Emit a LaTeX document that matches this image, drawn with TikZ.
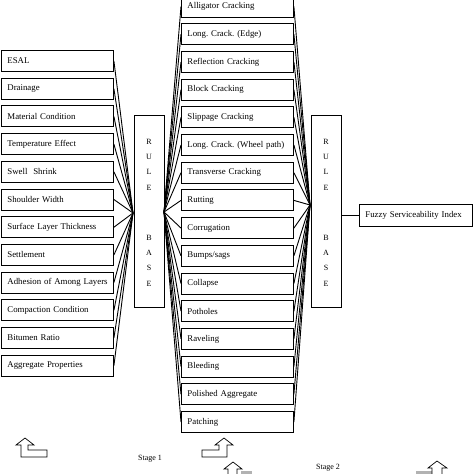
\documentclass[tikz,border=0pt]{standalone}
\usepackage{fontspec}
\setmainfont{Liberation Serif}
\frenchspacing
\begin{document}
\begin{tikzpicture}[x=1pt, y=-1pt, line width=0.9pt,
                  boite/.style={draw, anchor=west, minimum height=21pt, text width=100pt,
                                inner xsep=6pt, align=left, font=\fontsize{8.8}{10}\selectfont},
                  regle/.style={draw, minimum width=30pt, minimum height=192pt},
                  lettre/.style={font=\fontsize{8}{9}\selectfont},
                  fleche/.style={draw, line width=0.7pt, fill=white}]
\useasboundingbox (0,0) rectangle (474,474);
\clip (0,0) rectangle (474,474);
% stage 1 : parametres
\foreach \i/\t in {0/ESAL, 1/Drainage, 2/Material Condition, 3/Temperature Effect,
                   4/Swell\ \ Shrink, 5/Shoulder Width, 6/Surface Layer Thickness,
                   7/Settlement, 8/Adhesion of Among Layers, 9/Compaction Condition,
                   10/Bitumen Ratio, 11/Aggregate Properties}
  \node[boite] (p\i) at (1, 61+27.7*\i) {\mbox{\t}};
% regles
\node[regle] (rb1) at (149, 211) {};
\node[regle] (rb2) at (326, 211) {};
\foreach \y/\l in {142/R, 157/U, 172/L, 188/E, 238/B, 253/A, 268/S, 284/E}
  {\node[lettre] (ra\y) at (149, \y) {\l};
   \node[lettre] (rb\y) at (326, \y) {\l};};
\coordinate (in1) at (133, 213);
\coordinate (out1) at (164, 212);
\coordinate (in2) at (310, 205);
\foreach \i in {0,1,...,11}
  \draw (p\i.east) -- (in1);
% stage 2 : degradations
\foreach \i/\t in {0/Alligator Cracking, 1/Long. Crack. (Edge), 2/Reflection Cracking,
                   3/Block Cracking, 4/Slippage Cracking, 5/Long. Crack. (Wheel path),
                   6/Transverse Cracking, 7/Rutting, 8/Corrugation, 9/{Bumps/sags},
                   10/Collapse, 11/Potholes, 12/Raveling, 13/Bleeding,
                   14/Polished Aggregate, 15/Patching}
  {\node[boite] (d\i) at (181, 6.5+27.7*\i) {\mbox{\t}};
   \draw (out1) -- (d\i.west);
   \draw (d\i.east) -- (in2);};
% sortie
\node[boite, text width=101pt, minimum height=22pt] (fsi) at (359, 215.5) {Fuzzy Serviceability Index};
\draw (rb2.east |- fsi.west) -- (fsi.west);
% fleches du bas
\draw[fleche] (21,457) -- (47,457) -- (47,450) -- (28,450) -- (28,445) -- (34,445)
  -- (25,438) -- (16,445) -- (21,445) -- cycle;
\draw[fleche] (227,457) -- (202,457) -- (202,450) -- (219,450) -- (219,445) -- (215,445)
  -- (224,438) -- (233,445) -- (227,445) -- cycle;
\fill[gray!60] (241,471) rectangle (252,480);
\draw[fleche] (228,480) -- (228,469) -- (224,469) -- (233,462) -- (242,469) -- (237,469) -- (237,480);
\fill[gray!60] (416,471) rectangle (433,480);
\draw[fleche] (432,480) -- (432,468) -- (428,468) -- (437,461) -- (447,468) -- (442,468) -- (442,480);
\node[font=\fontsize{8}{9}\selectfont] (s1) at (150, 459) {Stage 1};
\node[font=\fontsize{8}{9}\selectfont] (s2) at (328, 468) {Stage 2};
\end{tikzpicture}
\end{document}
